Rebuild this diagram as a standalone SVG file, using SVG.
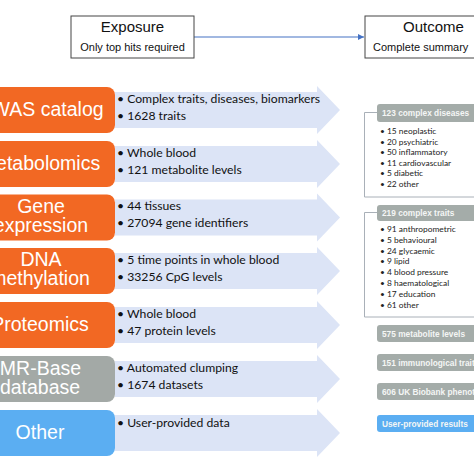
<svg xmlns="http://www.w3.org/2000/svg" width="474" height="474" viewBox="0 0 474 474">
<defs>
<style>
.top{fill:#fff;stroke:#444;stroke-width:1}
.t1{font-family:"Liberation Sans",Arial,sans-serif;font-size:15px;fill:#111}
.t2{font-family:"Liberation Sans",Arial,sans-serif;font-size:11px;fill:#111}
.src{font-family:"Liberation Sans",Arial,sans-serif;font-size:19.5px;fill:#fff;text-anchor:middle}
.or{fill:#F26823}
.gr{fill:#A3A9A6}
.bl{fill:#5BAEF2}
.arr{fill:#DCE4F6}
.bt{font-family:Lato,"Open Sans",sans-serif;font-size:12.2px;fill:#111}
.hd{fill:#A4ACA9}
.hdb{fill:#5BAEF2}
.ht{font-family:"Liberation Sans",Arial,sans-serif;font-size:8.3px;font-weight:bold;fill:#F4F6F5}
.it{font-family:Lato,"Open Sans",sans-serif;font-size:8.4px;fill:#222}
.br{fill:none;stroke:#A9B0B8;stroke-width:1}
</style>
<marker id="ah" viewBox="0 0 10 10" refX="10" refY="5" markerWidth="5" markerHeight="5" orient="auto"><path d="M0,0 L10,5 L0,10 Z" fill="#4472C4"/></marker>
</defs>
<rect width="474" height="474" fill="#fff"/>

<g id="connectors">
<line x1="194" y1="37" x2="364" y2="37" stroke="#4472C4" stroke-width="1.2" marker-end="url(#ah)"/>
<path class="arr" d="M115,92 L317,92 L317,86 L340,110 L317,134 L317,128 L115,128 Z"/>
<path class="arr" d="M115,146 L317,146 L317,140 L340,164 L317,188 L317,182 L115,182 Z"/>
<path class="arr" d="M115,199.5 L317,199.5 L317,193.5 L340,217.5 L317,241.5 L317,235.5 L115,235.5 Z"/>
<path class="arr" d="M115,253 L317,253 L317,247 L340,271 L317,295 L317,289 L115,289 Z"/>
<path class="arr" d="M115,307 L317,307 L317,301 L340,325 L317,349 L317,343 L115,343 Z"/>
<path class="arr" d="M115,361 L317,361 L317,355 L340,379 L317,403 L317,397 L115,397 Z"/>
<path class="arr" d="M115,415 L317,415 L317,409 L340,433 L317,457 L317,451 L115,451 Z"/>
</g>

<g id="exposure">
<rect class="top" x="71" y="16" width="123" height="42"/>
<text class="t1" x="132.5" y="32" text-anchor="middle">Exposure</text>
<text class="t2" x="132.5" y="51" text-anchor="middle">Only top hits required</text>
</g>
<g id="outcome">
<rect class="top" x="365" y="16" width="140" height="42"/>
<text class="t1" x="403" y="32">Outcome</text>
<text class="t2" x="373" y="51">Complete summary</text>
</g>

<g id="gwas">
<rect class="or" x="-30" y="87" width="145" height="46" rx="8"/>
<text class="src" x="40" y="116">GWAS catalog</text>
<text class="bt" x="117" y="103">• Complex traits, diseases, biomarkers</text>
<text class="bt" x="117" y="119.5">• 1628 traits</text>
</g>
<g id="metabolomics">
<rect class="or" x="-30" y="141" width="145" height="46" rx="8"/>
<text class="src" x="40" y="170">Metabolomics</text>
<text class="bt" x="117" y="156.5">• Whole blood</text>
<text class="bt" x="117" y="173.5">• 121 metabolite levels</text>
</g>
<g id="gene">
<rect class="or" x="-30" y="194.5" width="145" height="46" rx="8"/>
<text class="src" x="41" y="213">Gene</text>
<text class="src" x="41" y="231.5">expression</text>
<text class="bt" x="117" y="210">• 44 tissues</text>
<text class="bt" x="117" y="227">• 27094 gene identifiers</text>
</g>
<g id="dna">
<rect class="or" x="-30" y="248" width="145" height="46" rx="8"/>
<text class="src" x="41" y="265.5">DNA</text>
<text class="src" x="40" y="285">methylation</text>
<text class="bt" x="117" y="263.5">• 5 time points in whole blood</text>
<text class="bt" x="117" y="280.5">• 33256 CpG levels</text>
</g>
<g id="proteomics">
<rect class="or" x="-30" y="302" width="145" height="46" rx="8"/>
<text class="src" x="40" y="331">Proteomics</text>
<text class="bt" x="117" y="317.5">• Whole blood</text>
<text class="bt" x="117" y="334.5">• 47 protein levels</text>
</g>
<g id="mrbase">
<rect class="gr" x="-30" y="356" width="145" height="46" rx="8"/>
<text class="src" x="40.5" y="375">MR-Base</text>
<text class="src" x="40" y="393.5">database</text>
<text class="bt" x="117" y="371.5">• Automated clumping</text>
<text class="bt" x="117" y="388.5">• 1674 datasets</text>
</g>
<g id="other">
<rect class="bl" x="-30" y="410" width="145" height="46" rx="8"/>
<text class="src" x="40" y="439">Other</text>
<text class="bt" x="117" y="427">• User-provided data</text>
</g>

<g id="diseases">
<path class="br" d="M377,112.5 H364.5 V197 H480"/>
<rect class="hd" x="377" y="104" width="110" height="18" rx="3"/>
<text class="ht" x="382" y="116">123 complex diseases</text>
<text class="it" x="380" y="134">• 15 neoplastic</text>
<text class="it" x="380" y="144.5">• 20 psychiatric</text>
<text class="it" x="380" y="155">• 50 inflammatory</text>
<text class="it" x="380" y="165.5">• 11 cardiovascular</text>
<text class="it" x="380" y="176">• 5 diabetic</text>
<text class="it" x="380" y="186.5">• 22 other</text>
</g>
<g id="traits">
<path class="br" d="M377,212.5 H364.5 V317 H480"/>
<rect class="hd" x="377" y="205" width="110" height="16" rx="3"/>
<text class="ht" x="382" y="216">219 complex traits</text>
<text class="it" x="380" y="232">• 91 anthropometric</text>
<text class="it" x="380" y="243">• 5 behavioural</text>
<text class="it" x="380" y="254">• 24 glycaemic</text>
<text class="it" x="380" y="264">• 9 lipid</text>
<text class="it" x="380" y="275">• 4 blood pressure</text>
<text class="it" x="380" y="286">• 8 haematological</text>
<text class="it" x="380" y="297">• 17 education</text>
<text class="it" x="380" y="308">• 61 other</text>
</g>
<g id="metab-levels">
<rect class="hd" x="377" y="325" width="110" height="17" rx="3"/>
<text class="ht" x="382" y="336.5">575 metabolite levels</text>
</g>
<g id="immuno">
<rect class="hd" x="377" y="354" width="110" height="17" rx="3"/>
<text class="ht" x="382" y="365.5">151 immunological traits</text>
</g>
<g id="ukbb">
<rect class="hd" x="377" y="383" width="110" height="17" rx="3"/>
<text class="ht" x="382" y="394.5">606 UK Biobank phenotypes</text>
</g>
<g id="user-results">
<rect class="hdb" x="377" y="415" width="110" height="17" rx="3"/>
<text class="ht" x="382" y="426.5">User-provided results</text>
</g>
</svg>
